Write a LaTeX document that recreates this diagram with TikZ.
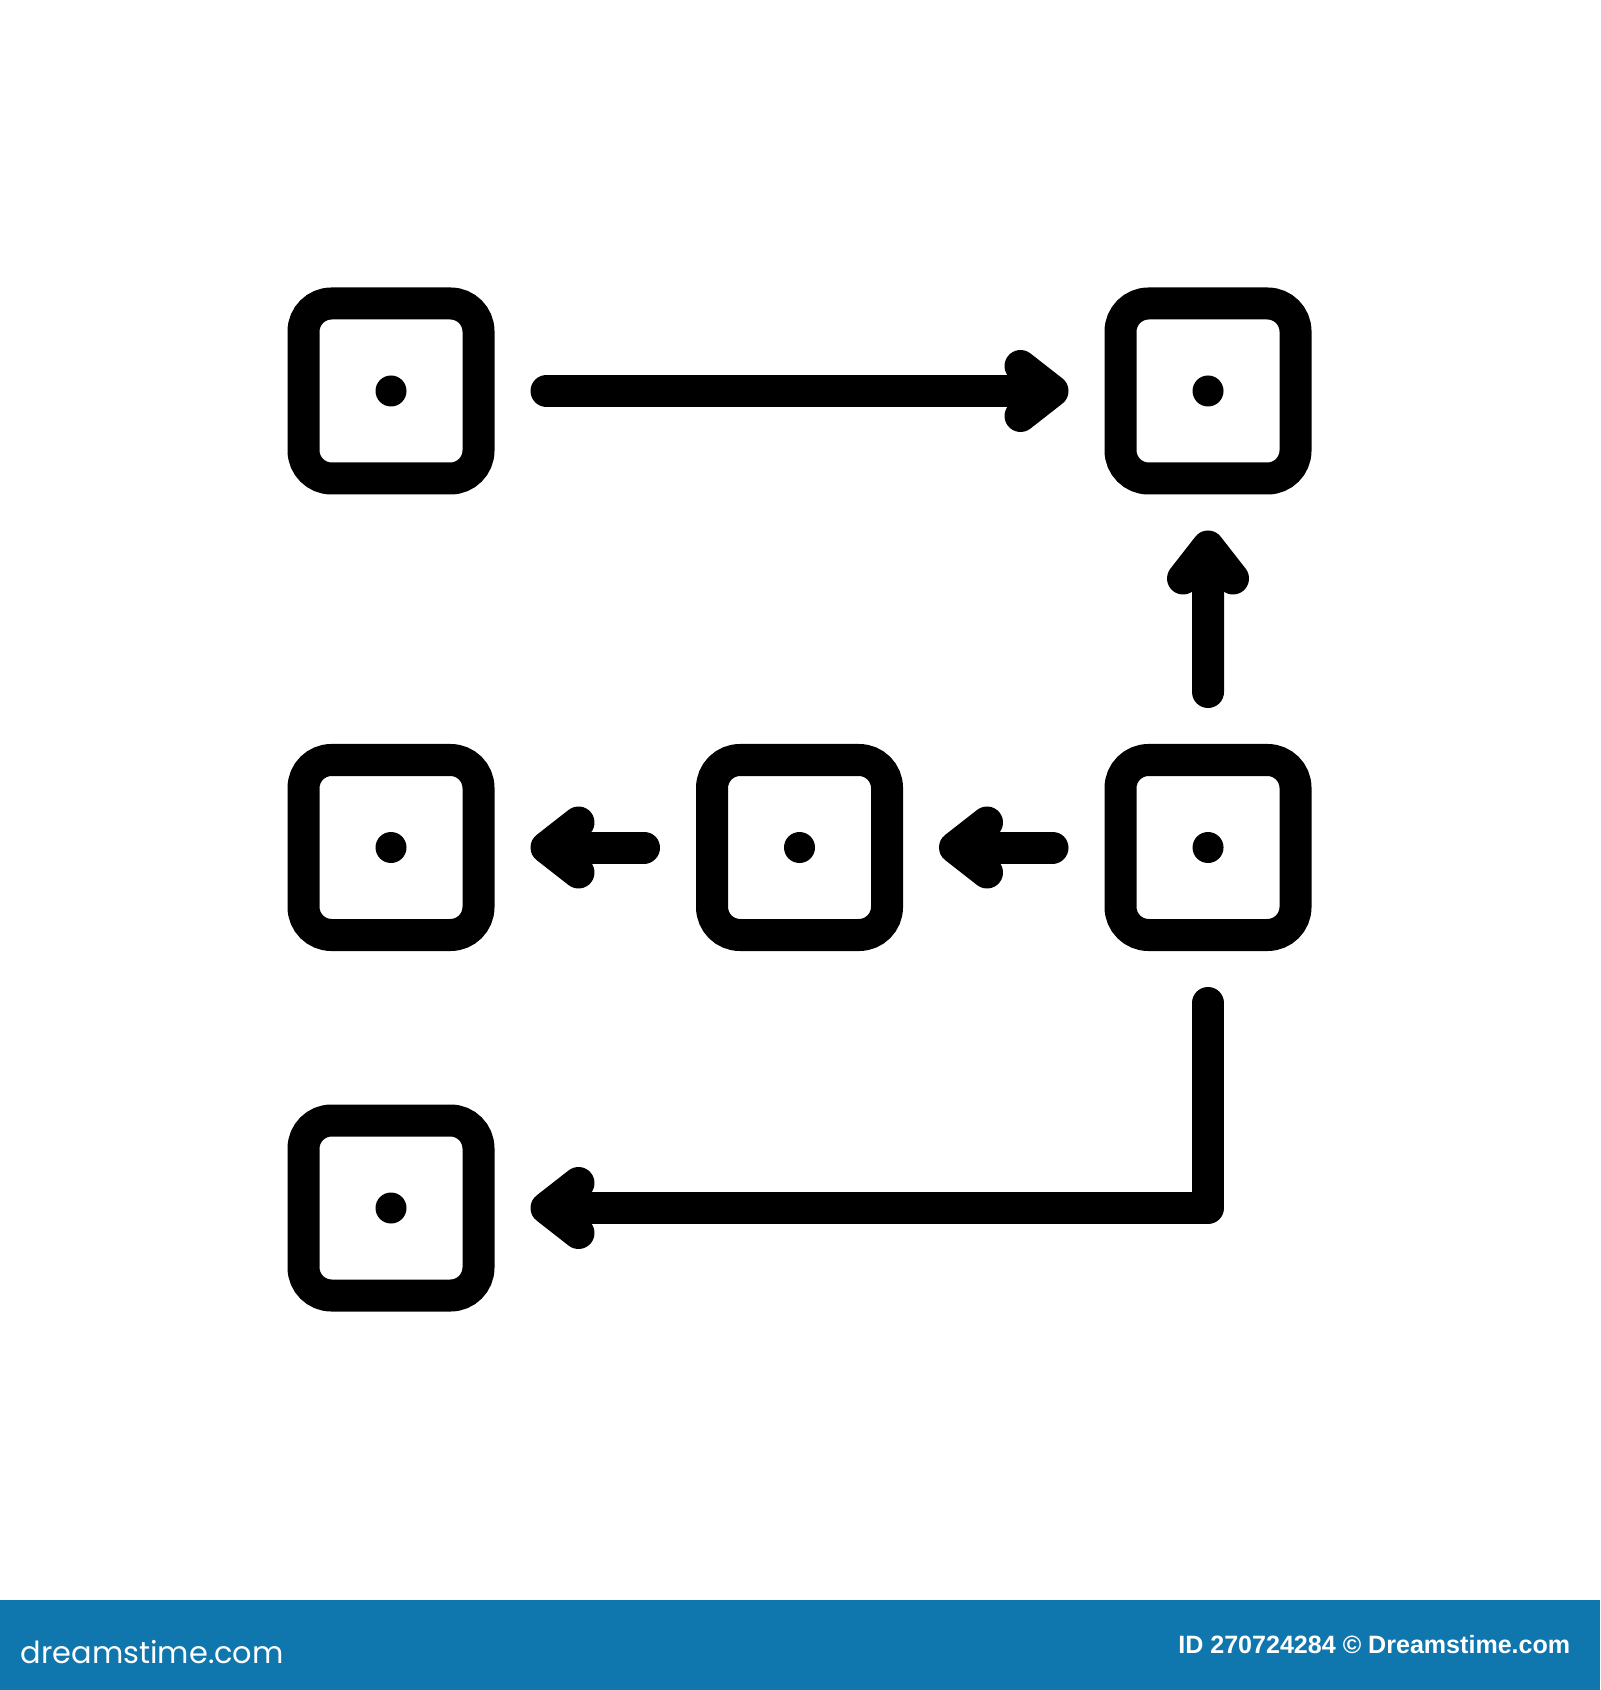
\documentclass[tikz,border=0pt]{standalone}
\usepackage{fontspec}
\usepackage{graphicx}
\usetikzlibrary{arrows.meta}
\newfontfamily\idfont{Liberation Sans}
\newfontfamily\logofont{Poppins}
\definecolor{bannerblue}{RGB}{16,118,174}
\begin{document}
\begin{tikzpicture}[
  cell/.style={rectangle, draw, line width=0.32cm, rounded corners=0.28cm, minimum size=1.75cm, inner sep=0pt},
  link/.style={line width=0.32cm, line cap=round, line join=round, shorten <=0.52cm, shorten >=0.36cm, -{Straight Barb[length=0.32cm,width=0.5cm,round]}},
  node distance=4.085cm
]
\useasboundingbox (0,0) rectangle (16,-16.9);

\node[cell] (tl) at (3.91,-3.91) {};
\node[cell, right of=tl, node distance=8.17cm] (tr) {};
\node[cell, below of=tl, node distance=4.565cm] (ml) {};
\node[cell, right of=ml] (mm) {};
\node[cell, right of=mm] (mr) {};
\node[cell, below of=ml, node distance=3.605cm] (bl) {};

\foreach \n in {tl,tr,ml,mm,mr,bl}
  \fill (\n) circle (0.155cm);

\draw[link] (tl) -- (tr);
\draw[link] (mr) -- (tr);
\draw[link] (mr) -- (mm);
\draw[link] (mm) -- (ml);
\draw[link] (mr) -- (mr |- bl) -- (bl);

% banner
\fill[bannerblue] (0,-16) rectangle (16,-16.9);
\node[anchor=base west, inner sep=0pt, text=white] (logo) at (0.2,-16.63) {\resizebox{2.63cm}{!}{\logofont dreamstime.com}};
\node[anchor=base east, inner sep=0pt, text=white] (credit) at (15.71,-16.53) {\resizebox{3.92cm}{!}{\idfont\bfseries ID 270724284 © Dreamstime.com}};
\end{tikzpicture}
\end{document}
